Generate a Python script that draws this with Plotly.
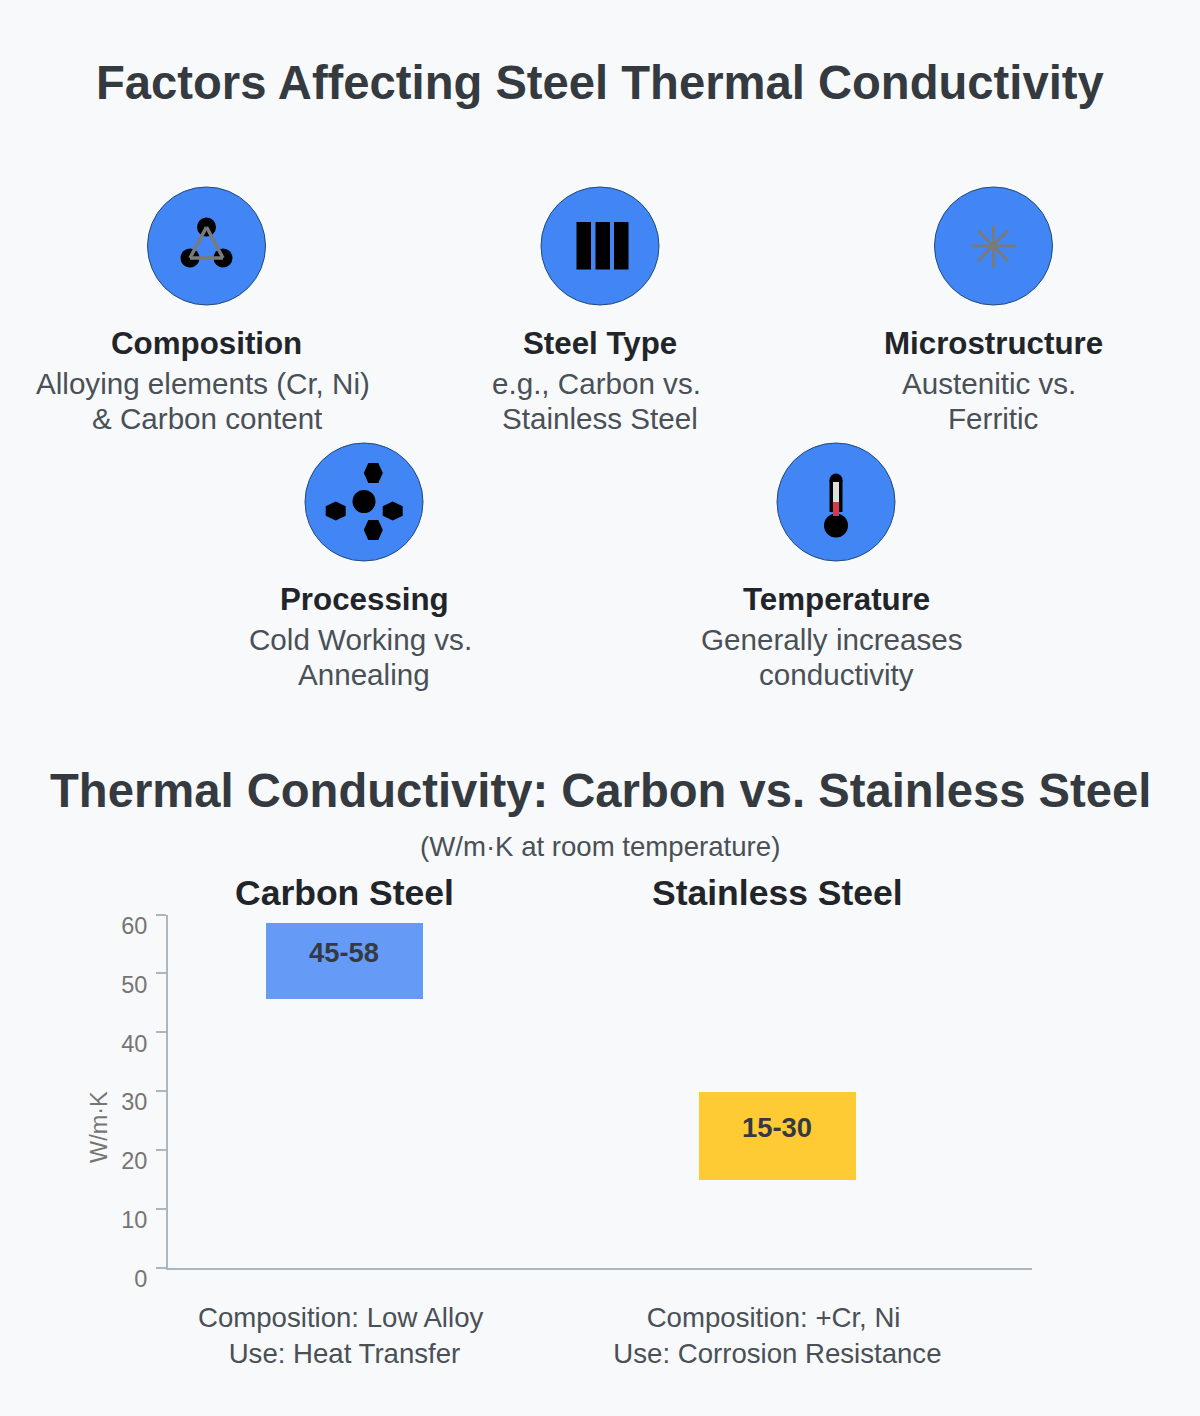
import plotly.graph_objects as go

W, H = 1200, 1416

# top part: the five factors
factor_names = ["Composition", "Steel Type", "Microstructure", "Processing", "Temperature"]
factor_notes = [
    ["Alloying elements (Cr, Ni)\u00a0", "& Carbon content"],
    ["e.g., Carbon vs.\u00a0", "Stainless Steel"],
    ["Austenitic vs.\u00a0", "Ferritic"],
    ["Cold Working vs.\u00a0", "Annealing"],
    ["Generally increases\u00a0", "conductivity"],
]
factor_cx = [206.5, 600, 993.5, 364, 836]
factor_cy = [246, 246, 246, 502, 502]

# bottom part: the range bars
steels = ["Carbon Steel", "Stainless Steel"]
range_low = [45.8, 15]
range_high = [58.6, 30]
range_labels = ["45-58", "15-30"]
steel_notes = [
    "Composition: Low Alloy\u00a0<br>Use: Heat Transfer",
    "Composition: +Cr, Ni\u00a0<br>Use: Corrosion Resistance",
]
bar_colors = ["#659bf6", "#ffcb35"]
y_ticks = [0, 10, 20, 30, 40, 50, 60]

BLUE = "#4285f4"
EDGE = "#1f4a7a"
GREY = "#757575"


def px(x):
    return x / W


def py(y):
    return 1 - y / H


def text(x, y, s, size, color, bold=False, **kw):
    return dict(x=px(x), y=py(y), xref="paper", yref="paper", text="<b>%s</b>" % s if bold else s,
                showarrow=False, xanchor="center", yanchor="middle",
                font=dict(size=size, color=color), **kw)


def circle(cx, cy, r, color, line=None, lw=1):
    return dict(type="circle", xref="paper", yref="paper",
                x0=px(cx - r), x1=px(cx + r), y0=py(cy + r), y1=py(cy - r),
                fillcolor=color, line=dict(color=line, width=lw) if line else dict(width=0))


def rect(x0, y0, x1, y1, color):
    return dict(type="rect", xref="paper", yref="paper",
                x0=px(x0), x1=px(x1), y0=py(y1), y1=py(y0),
                fillcolor=color, line=dict(width=0))


def seg(x0, y0, x1, y1, color="#7a7a7a", lw=3):
    return dict(type="line", xref="paper", yref="paper",
                x0=px(x0), x1=px(x1), y0=py(y0), y1=py(y1),
                line=dict(color=color, width=lw))


def hexagon(cx, cy, points):
    # points are offsets from the centre in pixels
    d = "M " + " L ".join("%.5f,%.5f" % (px(cx + a), py(cy + b)) for a, b in points) + " Z"
    return dict(type="path", xref="paper", yref="paper", path=d, fillcolor="black", line=dict(width=0))


HEX_UP = [(0, -9.5), (10, -4.8), (10, 4.8), (0, 9.5), (-10, 4.8), (-10, -4.8)]
HEX_FLAT = [(-5, -10), (5, -10), (9.5, 0), (5, 10), (-5, 10), (-9.5, 0)]

shapes = []
for cx, cy in zip(factor_cx, factor_cy):
    shapes.append(circle(cx, cy, 59, BLUE, EDGE, 1))

# composition icon
shapes += [circle(206.5, 227, 9.5, "black"), circle(190, 258, 9.5, "black"), circle(223, 258, 9.5, "black"),
           seg(206.5, 227, 190, 258, lw=3.5), seg(190, 258, 223, 258, lw=3.5), seg(223, 258, 206.5, 227, lw=3.5)]
# steel type icon
shapes += [rect(576.5, 222, 591, 269.5, "black"), rect(595.5, 222, 610, 269.5, "black"),
           rect(614, 222, 628.5, 269.5, "black")]
# microstructure icon
shapes += [seg(971.5, 246, 1016, 246), seg(993.5, 225, 993.5, 268), seg(978, 230.5, 1008, 261), seg(1008, 230.5, 978, 261)]
# processing icon
shapes += [circle(364, 501.5, 11.5, "black"), hexagon(373.3, 473, HEX_FLAT), hexagon(373.3, 530, HEX_FLAT),
           hexagon(335.7, 511, HEX_UP), hexagon(392.7, 511, HEX_UP)]
# temperature icon
shapes += [rect(829.5, 480, 842.5, 512, "black"), circle(836, 480, 6.5, "black"), circle(836, 525.5, 12, "black"),
           rect(833, 482, 839, 502, "#dddddd"), rect(833, 502, 839, 516, "#d43a4a")]

annotations = [
    text(600, 82.6, "Factors Affecting Steel Thermal Conductivity", 47.2, "#343a40", bold=True),
    text(600, 790, "Thermal Conductivity: Carbon vs. Stainless Steel", 47.2, "#343a40", bold=True),
    text(600, 846, "(W/m·K at room temperature)", 27.6, "#495057"),
    text(99, 1127, "W/m·K", 23.5, GREY, textangle=-90),
    text(344.5, 893, "Carbon Steel", 35.5, "#212529", bold=True),
    text(777.5, 893, "Stainless Steel", 35.5, "#212529", bold=True),
]
for name, note, cx, cy in zip(factor_names, factor_notes, factor_cx, factor_cy):
    annotations.append(text(cx, cy + 97.5, name, 31.3, "#212529", bold=True))
    annotations.append(text(cx, cy + 137.2, note[0], 29.6, "#495057"))
    annotations.append(text(cx, cy + 172.5, note[1], 29.6, "#495057"))

fig = go.Figure()
for i in range(2):
    fig.add_trace(go.Bar(
        x=[steels[i]], y=[range_high[i] - range_low[i]], base=[range_low[i]],
        width=0.3626, marker=dict(color=bar_colors[i], line=dict(width=0)),
        hoverinfo="skip", showlegend=False,
    ))
    fig.add_annotation(x=steels[i], y=range_high[i], yref="y", xref="x", text="<b>%s</b>" % range_labels[i],
                       showarrow=False, yanchor="middle", yshift=-30 if i == 0 else -36,
                       font=dict(size=27.4, color="#343a40"))

for a in annotations:
    fig.add_annotation(**a)

fig.update_layout(
    width=W, height=H, margin=dict(l=0, r=0, t=0, b=0),
    paper_bgcolor="#f8f9fa", plot_bgcolor="#f8f9fa",
    font=dict(family="Liberation Sans, Arial, sans-serif"),
    shapes=shapes, bargap=0,
    xaxis=dict(domain=[px(168), px(1032)], type="category", categoryorder="array", categoryarray=steels,
               range=[-0.4076, 1.588], tickmode="array", tickvals=steels, ticktext=steel_notes,
               showline=True, linecolor="#adb5bd", linewidth=2, showgrid=False, zeroline=False, automargin=False,
               ticks="", ticklabelstandoff=24, tickfont=dict(size=27.6, color="#495057")),
    yaxis=dict(domain=[py(1268), py(914.5)], range=[0, 60], tickvals=y_ticks,
               showline=True, linecolor="#adb5bd", linewidth=2, showgrid=False, zeroline=False, automargin=False,
               ticks="outside", ticklen=10, tickwidth=2, tickcolor="#adb5bd", ticklabelshift=11,
               ticklabelstandoff=4, tickfont=dict(size=23.5, color=GREY)),
)

fig.write_html("out.html", config=dict(displayModeBar=False), post_script="document.body.style.margin='0'")
